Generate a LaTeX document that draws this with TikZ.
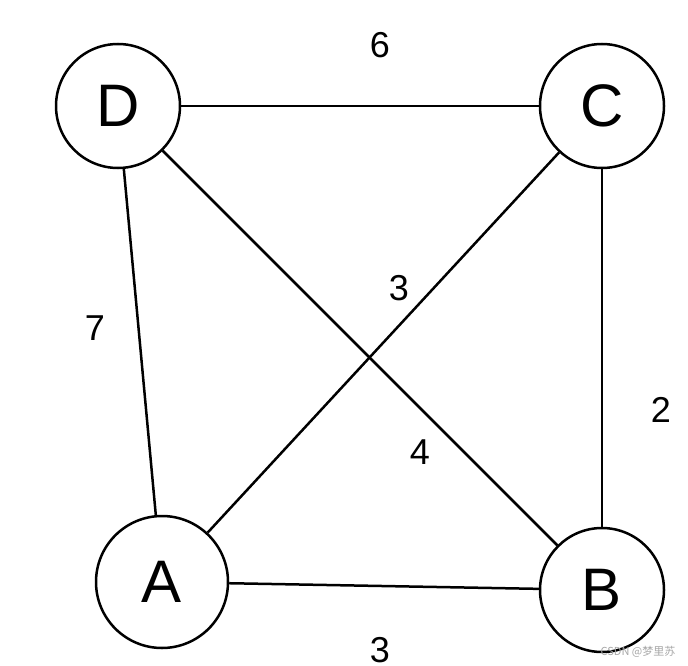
\documentclass[tikz,border=0pt]{standalone}
\usepackage{fontspec}
\setmainfont{Liberation Sans}
\newfontfamily\cjk{Noto Sans CJK SC}
\begin{document}
\begin{tikzpicture}[x=1pt,y=-1pt,
  vert/.style={circle,draw,line width=2.5pt,minimum size=124pt,inner sep=0pt,font=\fontsize{60}{60}\selectfont},
  edge/.style={line width=2.5pt},
  lab/.style={font=\fontsize{36}{36}\selectfont}]
\useasboundingbox (0,0) rectangle (688,666);
\node[vert] (D) at (118,106) {D};
\node[vert] (C) at (602,106) {C};
\node[vert,minimum size=132pt] (A) at (162,582) {A};
\node[vert] (B) at (602,590) {B};
\draw[edge] (D) -- (C);
\draw[edge] (D) -- (A);
\draw[edge] (D) -- (B);
\draw[edge] (C) -- (A);
\draw[edge] (C) -- (B);
\draw[edge] (A) -- (B);
\node[lab] (l6) at (380,45) {6};
\node[lab] (l7) at (95,328) {7};
\node[lab] (l3a) at (399,288) {3};
\node[lab] (l4) at (420,452) {4};
\node[lab] (l2) at (661,410) {2};
\node[lab] (l3b) at (380,650) {3};
\node[font=\cjk\fontsize{11}{11}\selectfont,text=gray!70] (wm) at (638,652) {CSDN @梦里苏};
\end{tikzpicture}
\end{document}
